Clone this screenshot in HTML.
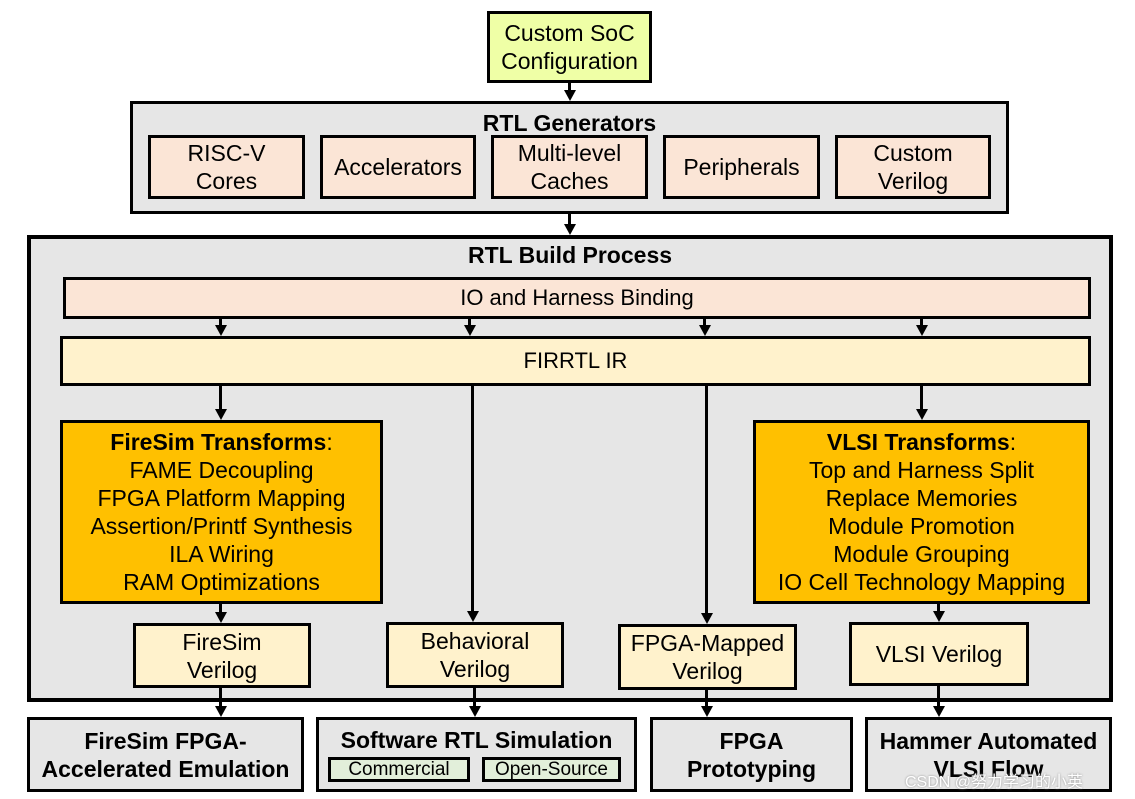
<!DOCTYPE html>
<html><head><meta charset="utf-8"><style>
body{margin:0;width:1135px;height:799px;background:#fff;position:relative;overflow:hidden;font-family:"Liberation Sans",Arial,sans-serif;color:#000}
.b{position:absolute;box-sizing:border-box;border:3px solid #000;display:flex;flex-direction:column;align-items:center;justify-content:center;text-align:center;font-size:23px;line-height:28px;white-space:nowrap}
.g{background:#e6e6e6}
.p{background:#fbe5d6}
.y{background:#fff2cc}
.o{background:#ffc000}
.t{position:absolute;font-weight:bold;font-size:23px;text-align:center}
.v{position:absolute;width:3px;background:#000}
.a{position:absolute;width:0;height:0;border-left:6px solid transparent;border-right:6px solid transparent;border-top:11px solid #000}
.s{position:absolute;box-sizing:border-box;border:3px solid #000;background:#e2efda;font-size:19px;line-height:19px;text-align:center}
</style></head><body>

<div class="b" style="left:487px;top:11px;width:165px;height:72px;background:#efffa6">Custom SoC<br>Configuration</div>

<div class="b g" style="left:130px;top:101px;width:879px;height:113px"></div>
<div class="t" style="left:130px;top:110px;width:879px">RTL Generators</div>
<div class="b p" style="left:148px;top:135px;width:157px;height:64px">RISC-V<br>Cores</div>
<div class="b p" style="left:320px;top:135px;width:156px;height:64px">Accelerators</div>
<div class="b p" style="left:491px;top:135px;width:157px;height:64px">Multi-level<br>Caches</div>
<div class="b p" style="left:663px;top:135px;width:157px;height:64px">Peripherals</div>
<div class="b p" style="left:835px;top:135px;width:156px;height:64px">Custom<br>Verilog</div>

<div class="b g" style="left:27px;top:235px;width:1086px;height:467px;border-width:4px"></div>
<div class="t" style="left:27px;top:242px;width:1086px">RTL Build Process</div>
<div class="b p" style="left:63px;top:277px;width:1028px;height:42px;font-size:22px">IO and Harness Binding</div>
<div class="b y" style="left:60px;top:336px;width:1031px;height:50px;font-size:22px">FIRRTL IR</div>

<div class="b o" style="left:60px;top:420px;width:323px;height:184px"><span><b>FireSim Transforms</b>:</span>FAME Decoupling<br>FPGA Platform Mapping<br>Assertion/Printf Synthesis<br>ILA Wiring<br>RAM Optimizations</div>
<div class="b o" style="left:753px;top:420px;width:337px;height:184px"><span><b>VLSI Transforms</b>:</span>Top and Harness Split<br>Replace Memories<br>Module Promotion<br>Module Grouping<br>IO Cell Technology Mapping</div>

<div class="b y" style="left:133px;top:623px;width:178px;height:65px">FireSim<br>Verilog</div>
<div class="b y" style="left:386px;top:622px;width:178px;height:66px">Behavioral<br>Verilog</div>
<div class="b y" style="left:618px;top:624px;width:179px;height:66px">FPGA-Mapped<br>Verilog</div>
<div class="b y" style="left:849px;top:622px;width:180px;height:64px">VLSI Verilog</div>

<div class="b g" style="left:27px;top:717px;width:277px;height:75px;font-weight:bold">FireSim FPGA-<br>Accelerated Emulation</div>
<div class="b g" style="left:316px;top:717px;width:321px;height:75px;font-weight:bold;justify-content:flex-start;padding-top:6px">Software RTL Simulation</div>
<div class="s" style="left:328px;top:757px;width:142px;height:25px">Commercial</div>
<div class="s" style="left:482px;top:757px;width:139px;height:25px">Open-Source</div>
<div class="b g" style="left:650px;top:717px;width:203px;height:75px;font-weight:bold">FPGA<br>Prototyping</div>
<div class="b g" style="left:865px;top:717px;width:247px;height:75px;font-weight:bold">Hammer Automated<br>VLSI Flow</div>

<div class="v" style="left:568px;top:82px;height:10px"></div><div class="a" style="left:564px;top:90px"></div>
<div class="v" style="left:568px;top:213px;height:12px"></div><div class="a" style="left:564px;top:224px"></div>

<div class="v" style="left:219px;top:318px;height:8px"></div><div class="a" style="left:215px;top:325px"></div>
<div class="v" style="left:468px;top:318px;height:8px"></div><div class="a" style="left:464px;top:325px"></div>
<div class="v" style="left:703px;top:318px;height:8px"></div><div class="a" style="left:699px;top:325px"></div>
<div class="v" style="left:920px;top:318px;height:8px"></div><div class="a" style="left:916px;top:325px"></div>

<div class="v" style="left:219px;top:385px;height:25px"></div><div class="a" style="left:215px;top:409px"></div>
<div class="v" style="left:920px;top:385px;height:25px"></div><div class="a" style="left:916px;top:409px"></div>
<div class="v" style="left:471px;top:385px;height:227px"></div><div class="a" style="left:467px;top:611px"></div>
<div class="v" style="left:705px;top:385px;height:229px"></div><div class="a" style="left:701px;top:613px"></div>

<div class="v" style="left:219px;top:603px;height:10px"></div><div class="a" style="left:215px;top:612px"></div>
<div class="v" style="left:937px;top:603px;height:9px"></div><div class="a" style="left:933px;top:611px"></div>

<div class="v" style="left:219px;top:687px;height:20px"></div><div class="a" style="left:215px;top:706px"></div>
<div class="v" style="left:473px;top:687px;height:20px"></div><div class="a" style="left:469px;top:706px"></div>
<div class="v" style="left:705px;top:689px;height:18px"></div><div class="a" style="left:701px;top:706px"></div>
<div class="v" style="left:937px;top:685px;height:22px"></div><div class="a" style="left:933px;top:706px"></div>

<div style="position:absolute;left:905px;top:768px;font-size:16px;color:#fff;text-shadow:0 0 2px #888;font-family:'Liberation Sans','Noto Sans CJK SC',sans-serif">CSDN @努力学习的小英</div>
</body></html>
